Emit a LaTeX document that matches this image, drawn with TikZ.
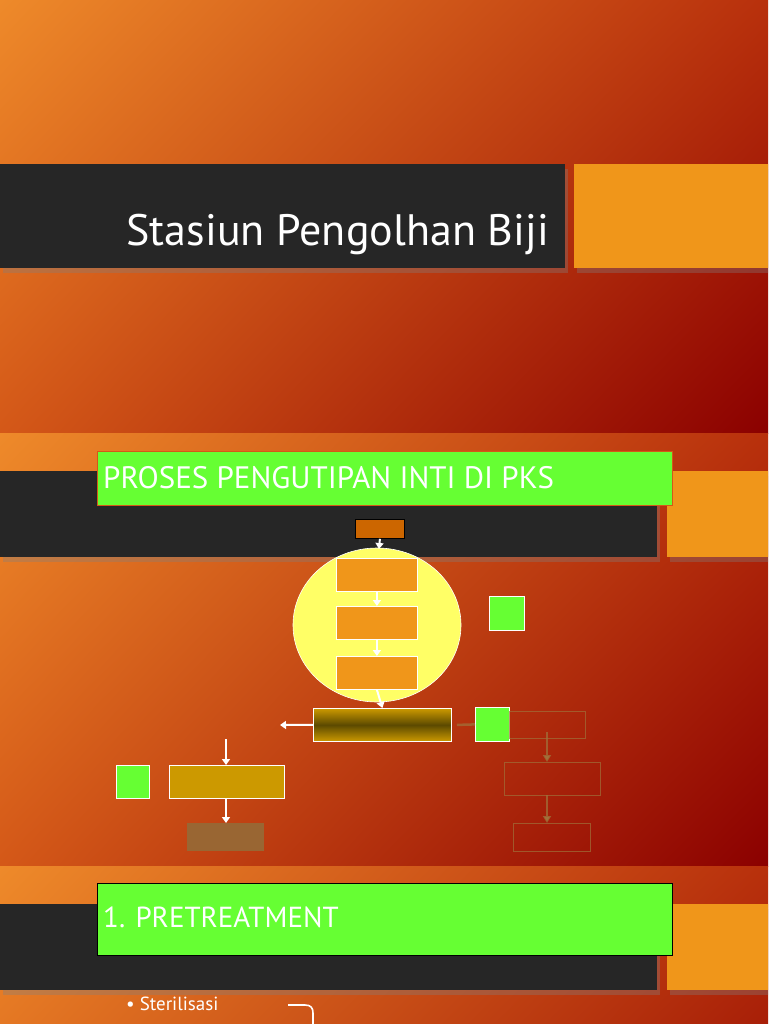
\documentclass[tikz,border=0pt]{standalone}
\usepackage{fontspec}
\setmainfont{PT Sans}
\newfontfamily\tfont{PT Sans}
\usetikzlibrary{arrows.meta,shadows,shadings}
\definecolor{bgA}{HTML}{EE8A2A}
\definecolor{bgB}{HTML}{B8300C}
\definecolor{bgC}{HTML}{D45818}
\definecolor{bgD}{HTML}{8B0000}
\definecolor{band}{HTML}{262626}
\definecolor{blk}{HTML}{F0961A}
\definecolor{lime}{HTML}{66FF33}
\definecolor{yel}{HTML}{FFFF66}
\definecolor{gold}{HTML}{CC9900}
\definecolor{dgold}{HTML}{5C4A00}
\definecolor{rust}{HTML}{CC6600}
\definecolor{brn}{HTML}{996633}
\definecolor{faint}{HTML}{A0703A}
\tikzset{
  bg/.style={upper left=bgA, upper right=bgB, lower left=bgC, lower right=bgD},
  darkband/.style={fill=band, drop shadow={shadow xshift=3pt, shadow yshift=-5pt, opacity=0.35}},
  orangeblk/.style={fill=blk, drop shadow={shadow xshift=3pt, shadow yshift=-5pt, opacity=0.35}},
  box/.style={draw=white, line width=0.8pt, inner sep=0pt, anchor=north west},
  fbox/.style={draw=faint, draw opacity=0.7, line width=1.2pt, inner sep=0pt, anchor=north west},
  warr/.style={draw=white, line width=2pt, -{Triangle[length=6pt,width=8pt]}},
  farr/.style={draw=faint, draw opacity=0.75, line width=2.2pt, -{Triangle[length=7pt,width=8pt]}},
}
\begin{document}
\begin{tikzpicture}[x=1pt,y=-1pt]
\useasboundingbox (0,0) rectangle (768,1024);
\begin{scope}
\clip (0,0) rectangle (768,1024);
% ---------- slide 1 ----------
\shade[bg] (0,0) rectangle (768,433);
\fill[darkband] (0,164) rectangle (565,268);
\fill[orangeblk] (574,164) rectangle (772,268);
\node[anchor=base east, text=white, font=\tfont\fontsize{44}{50}\selectfont, inner sep=0pt] (title1) at (549,245) {Stasiun Pengolhan Biji};
% ---------- slide 2 ----------
\shade[bg] (0,433) rectangle (768,866);
\fill[darkband] (0,471) rectangle (657,557);
\fill[orangeblk] (667,471) rectangle (772,557);
\node[anchor=north west, fill=lime, draw=bgC, line width=0.8pt, minimum width=575pt, minimum height=54pt, inner sep=0pt] (t2box) at (97,451) {};
\node[anchor=base west, text=white, font=\tfont\fontsize{31}{36}\selectfont, inner sep=0pt] (title2) at (103,488) {PROSES PENGUTIPAN INTI DI PKS};
% top small box
\node[anchor=north west, fill=rust, draw=black, line width=0.8pt, minimum width=49pt, minimum height=19pt, inner sep=0pt] (s0) at (355,519) {};
% ellipse
\draw[white, line width=0.6pt, fill=yel] (377,625) ellipse [x radius=84, y radius=77];
\coordinate (etop) at (379,549);
\node[box, fill=blk, minimum width=81pt, minimum height=33pt] (s1) at (336,558) {};
\node[box, fill=blk, minimum width=81pt, minimum height=33pt] (s2) at (336,606) {};
\node[box, fill=blk, minimum width=81pt, minimum height=33pt] (s3) at (336,656) {};
\node[box, top color=gold, bottom color=gold, middle color=dgold, minimum width=138pt, minimum height=33pt] (g) at (313,708) {};
\draw[warr] (s0.south) -- (etop);
\draw[warr] (s1.south) -- (s2.north);
\draw[warr] (s2.south) -- (s3.north);
\draw[warr] (s3.south) -- (g.north);
\coordinate (gl) at (280,725);
\draw[warr] (g.west) -- (gl);
% green squares
\node[box, fill=lime, minimum width=35pt, minimum height=34pt] (q1) at (489,596) {};
\node[box, fill=lime, minimum width=34pt, minimum height=34pt] (q2) at (475,707) {};
\node[box, fill=lime, minimum width=33pt, minimum height=33pt] (q3) at (116,765) {};
% faint right branch
\draw[faint, opacity=0.75, line width=2.5pt] ([xshift=5pt]g.east) -- (q2.west);
\node[fbox, minimum width=76pt, minimum height=27pt] (r1) at (509,711) {};
\node[fbox, minimum width=96pt, minimum height=33pt] (r2) at (504,762) {};
\node[fbox, minimum width=77pt, minimum height=28pt] (r3) at (513,823) {};
\coordinate (r1a) at (547,732);
\coordinate (r2a) at (547,795);
\draw[farr] (r1a) -- (r2.north -| r1a);
\draw[farr] (r2a) -- (r3.north -| r2a);
% left branch
\node[box, fill=gold, minimum width=115pt, minimum height=33pt] (l1) at (169,765) {};
\node[anchor=north west, fill=brn, minimum width=77pt, minimum height=28pt, inner sep=0pt] (l2) at (187,823) {};
\coordinate (la) at (226,739);
\draw[warr] (la) -- (l1.north -| la);
\draw[warr] (l1.south -| la) -- (l2.north -| la);
% ---------- slide 3 ----------
\shade[bg] (0,866) rectangle (768,1299);
\fill[darkband] (0,904) rectangle (657,990);
\fill[orangeblk] (667,904) rectangle (772,990);
\node[anchor=north west, fill=lime, draw=black, line width=0.8pt, minimum width=575pt, minimum height=72pt, inner sep=0pt] (t3box) at (97,883) {};
\node[anchor=base west, text=white, font=\tfont\fontsize{29}{34}\selectfont, inner sep=0pt] (title3) at (103,927) {1. PRETREATMENT};
\node[anchor=base west, text=white, font=\tfont\fontsize{19}{22}\selectfont, inner sep=0pt] (b1) at (126,1010) {\textbullet\hspace{5pt}Sterilisasi};
\draw[white, line width=1.6pt] (288,1005) -- (305,1005) .. controls (311,1005) and (313,1008) .. (313,1013) -- (313,1026);
\end{scope}
\end{tikzpicture}
\end{document}
